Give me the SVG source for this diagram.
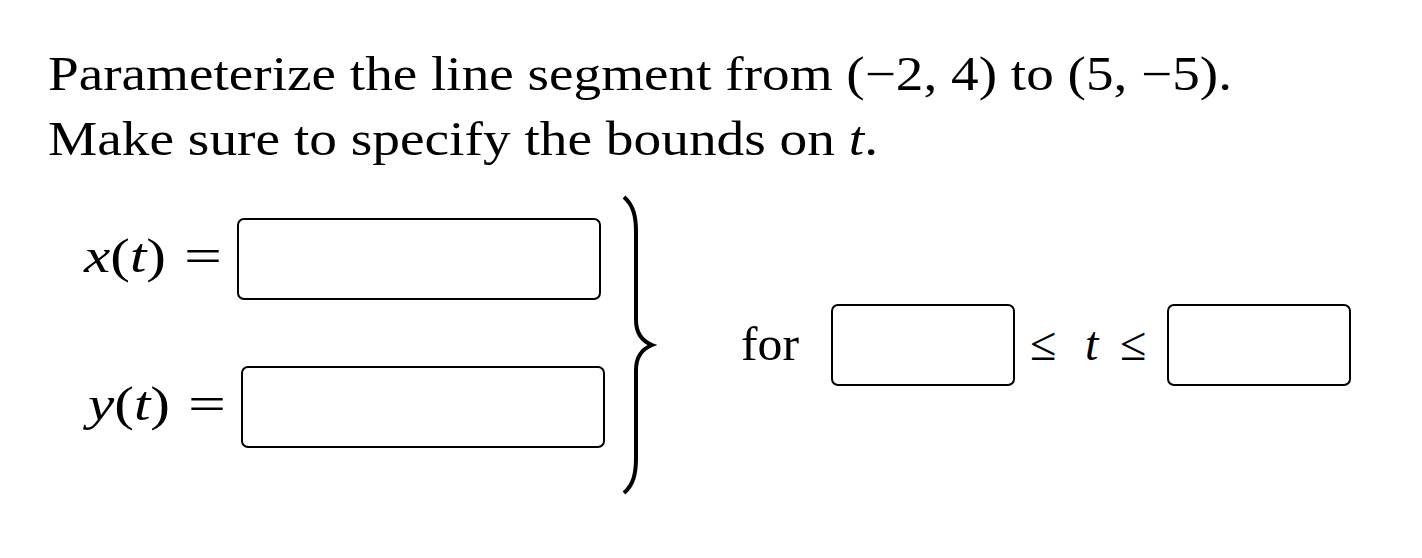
<svg xmlns="http://www.w3.org/2000/svg" width="1422" height="558" viewBox="0 0 1422 558">
<style>
text{font-family:"Liberation Serif","DejaVu Serif",serif;font-size:48px;fill:#000}
.i{font-style:italic}
.box{fill:#fff;stroke:#000;stroke-width:2}
</style>
<rect width="1422" height="558" fill="#fff"/>
<text x="48" y="90" textLength="1184" lengthAdjust="spacingAndGlyphs">Parameterize the line segment from (−2, 4) to (5, −5).</text>
<text x="48" y="155" textLength="830" lengthAdjust="spacingAndGlyphs">Make sure to specify the bounds on <tspan class="i">t</tspan>.</text>
<g>
<text x="84" y="272" textLength="82" lengthAdjust="spacingAndGlyphs"><tspan class="i">x</tspan>(<tspan class="i">t</tspan>)</text>
<text x="184" y="272" textLength="38" lengthAdjust="spacingAndGlyphs">=</text>
</g>
<rect class="box" x="238" y="219" width="362" height="80" rx="6"/>
<g>
<text x="88" y="420" textLength="82" lengthAdjust="spacingAndGlyphs"><tspan class="i">y</tspan>(<tspan class="i">t</tspan>)</text>
<text x="188" y="420" textLength="38" lengthAdjust="spacingAndGlyphs">=</text>
</g>
<rect class="box" x="242" y="367" width="362" height="80" rx="6"/>
<path d="M624,197 C633,205 636,215 636,232 L636,320 C636,333 642,341 652,345 C642,349 636,357 636,370 L636,458 C636,475 633,485 624,493" fill="none" stroke="#000" stroke-width="4"/>
<text x="741" y="360" textLength="58" lengthAdjust="spacingAndGlyphs">for</text>
<rect class="box" x="832" y="305" width="182" height="80" rx="6"/>
<text x="1030" y="360">≤</text>
<text x="1085" y="360" class="i">t</text>
<text x="1120" y="360">≤</text>
<rect class="box" x="1168" y="305" width="182" height="80" rx="6"/>
</svg>
